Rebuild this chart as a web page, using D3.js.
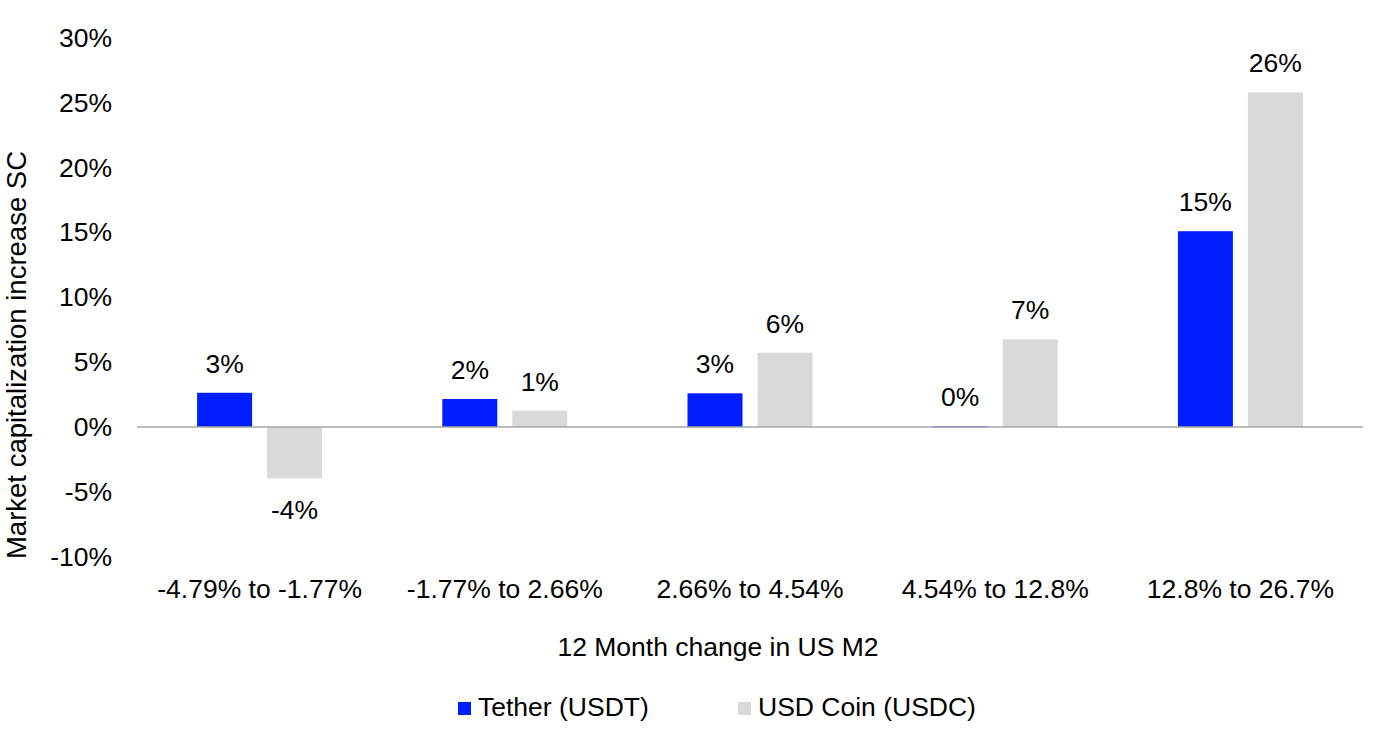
<!DOCTYPE html>
<html>
<head>
<meta charset="utf-8">
<script src="https://cdn.jsdelivr.net/npm/d3@7"></script>
<style>
  html, body { margin: 0; padding: 0; background: #fff; }
  svg text { font-family: "Liberation Sans", Arial, sans-serif; fill: #000; }
</style>
</head>
<body>
<svg id="chart" width="1382" height="729"></svg>
<script>
const categories = ["-4.79% to -1.77%", "-1.77% to 2.66%", "2.66% to 4.54%", "4.54% to 12.8%", "12.8% to 26.7%"];
const series = ["Tether (USDT)", "USD Coin (USDC)"];
const tetherValues = [2.64, 2.16, 2.6, 0.05, 15.1];
const usdcValues = [-3.96, 1.26, 5.73, 6.76, 25.8];
const yTicks = [-10, -5, 0, 5, 10, 15, 20, 25, 30];

const color = { "Tether (USDT)": "#001EFF", "USD Coin (USDC)": "#D9D9D9" };
const fontSize = 26.5;

const rows = categories.map((c, i) => ({
  category: c,
  values: [
    { series: series[0], value: tetherValues[i] },
    { series: series[1], value: usdcValues[i] }
  ]
}));

const svg = d3.select("#chart");
const plot = { left: 137, right: 1363, top: 38, bottom: 556.7 };

const x0 = d3.scaleBand()
  .domain(categories)
  .range([plot.left, plot.right])
  .paddingInner(0.4902)
  .paddingOuter(0.2451);

const x1 = d3.scaleBand()
  .domain(series)
  .range([0, x0.bandwidth()])
  .paddingInner(0.214);

const y = d3.scaleLinear()
  .domain([-10, 30])
  .range([plot.bottom, plot.top]);

// y axis labels only
const yAxis = svg.append("g")
  .attr("transform", `translate(${plot.left},0)`)
  .call(d3.axisLeft(y).tickValues(yTicks).tickSize(0).tickPadding(25).tickFormat(d => d + "%"));
yAxis.select(".domain").remove();
yAxis.selectAll("text")
  .attr("font-size", fontSize)
  .attr("font-family", "Liberation Sans, Arial, sans-serif")
  .attr("fill", "#000");

// category labels
const xAxis = svg.append("g")
  .attr("transform", `translate(0,${plot.bottom})`)
  .call(d3.axisBottom(x0).tickSize(0).tickPadding(22));
xAxis.select(".domain").remove();
xAxis.selectAll("text")
  .attr("font-size", fontSize)
  .attr("font-family", "Liberation Sans, Arial, sans-serif")
  .attr("fill", "#000");

// bars
const groups = svg.append("g")
  .selectAll("g")
  .data(rows)
  .join("g")
  .attr("transform", d => `translate(${x0(d.category)},0)`);

groups.selectAll("rect")
  .data(d => d.values)
  .join("rect")
  .attr("x", d => x1(d.series))
  .attr("width", x1.bandwidth())
  .attr("y", d => y(Math.max(0, d.value)))
  .attr("height", d => Math.max(1, Math.abs(y(d.value) - y(0))))
  .attr("fill", d => color[d.series]);

groups.selectAll("text")
  .data(d => d.values)
  .join("text")
  .attr("x", d => x1(d.series) + x1.bandwidth() / 2)
  .attr("y", d => d.value >= 0 ? y(d.value) - 20 : y(d.value) + 40.7)
  .attr("text-anchor", "middle")
  .attr("font-size", fontSize)
  .text(d => Math.round(d.value) + "%");

// zero line
svg.append("line")
  .attr("x1", plot.left)
  .attr("x2", plot.right)
  .attr("y1", y(0))
  .attr("y2", y(0))
  .attr("stroke", "#A6A6A6")
  .attr("stroke-width", 1.5);

// axis titles
svg.append("text")
  .attr("transform", "translate(26,355) rotate(-90)")
  .attr("text-anchor", "middle")
  .attr("font-size", 27.5)
  .text("Market capitalization increase SC");

svg.append("text")
  .attr("x", 718)
  .attr("y", 656)
  .attr("text-anchor", "middle")
  .attr("font-size", fontSize)
  .text("12 Month change in US M2");

// legend
const legendX = [458, 738];
const legend = svg.append("g")
  .selectAll("g")
  .data(series)
  .join("g")
  .attr("transform", (d, i) => `translate(${legendX[i]},702)`);

legend.append("rect")
  .attr("width", 13)
  .attr("height", 13)
  .attr("fill", d => color[d]);

legend.append("text")
  .attr("x", 20)
  .attr("y", 14)
  .attr("font-size", fontSize)
  .text(d => d);
</script>
</body>
</html>
